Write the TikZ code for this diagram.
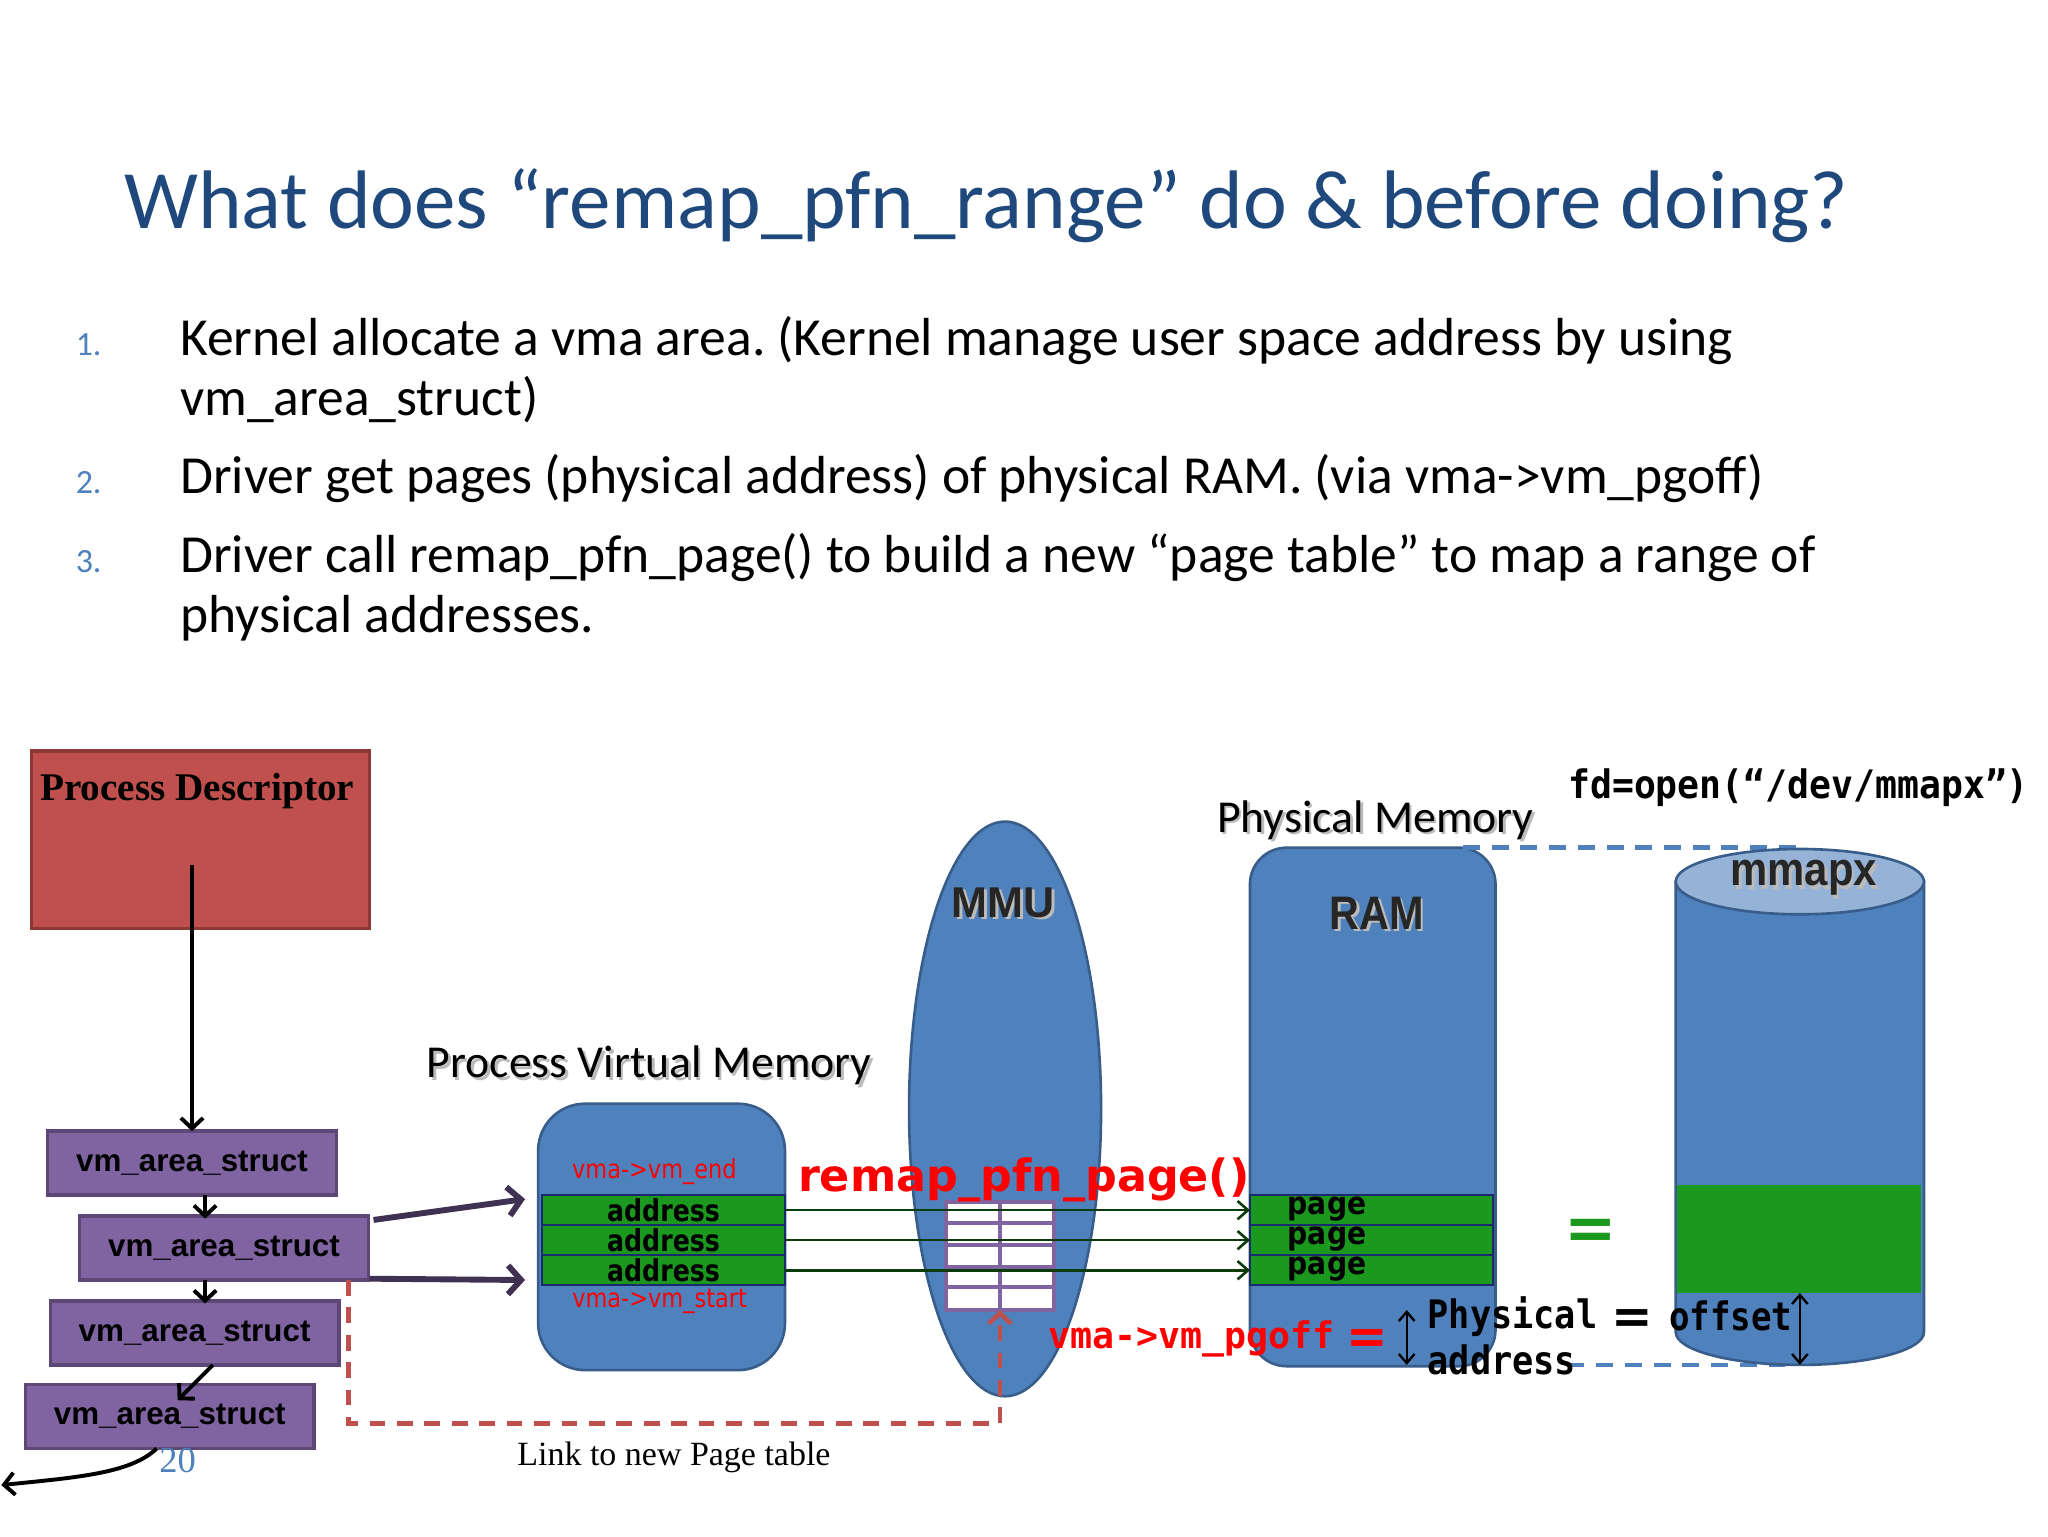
\documentclass[tikz,border=0pt]{standalone}
\usepackage{fontspec}
\setmainfont{Carlito}
\newfontfamily\timesf{Liberation Serif}
\newfontfamily\arialf{Liberation Sans}
\newfontfamily\dvs{DejaVu Sans}
\newfontfamily\dvm{DejaVu Sans Mono}
\usetikzlibrary{arrows.meta,shapes.geometric}
\definecolor{titleblue}{HTML}{1F497D}
\definecolor{numblue}{HTML}{4F81BD}
\definecolor{pdred}{HTML}{C0504D}
\definecolor{pdborder}{HTML}{8C3836}
\definecolor{vmpurple}{HTML}{8064A2}
\definecolor{vmborder}{HTML}{5C4776}
\definecolor{memblue}{HTML}{4F81BD}
\definecolor{memborder}{HTML}{385D8A}
\definecolor{pggreen}{HTML}{1B991F}
\definecolor{mmtopc}{HTML}{95B3D7}
\definecolor{arrdark}{HTML}{3F3151}
\definecolor{lngreen}{HTML}{0B3B0B}
\definecolor{rowborder}{HTML}{1A2A6C}
\definecolor{dashred}{HTML}{C0504D}
\definecolor{shadowgray}{HTML}{BBBBBB}
\definecolor{labeldark}{HTML}{262626}
\newcommand\fsz[1]{\fontsize{#1}{#1}\selectfont}
\newcommand\hsq[2]{\scalebox{#1}[1]{#2}}
\frenchspacing
\begin{document}
\begin{tikzpicture}[x=1pt,y=-1pt,
  every node/.style={inner sep=0pt, outer sep=0pt},
  pdbox/.style={draw=pdborder, fill=pdred, line width=2.5pt, minimum width=259pt, minimum height=136pt},
  vmbox/.style={draw=vmborder, fill=vmpurple, line width=2.5pt, minimum width=221pt, minimum height=49pt, font=\arialf\bfseries\fsz{24}},
  membox/.style={draw=memborder, fill=memblue, line width=2pt},
  rowbox/.style={draw=rowborder, fill=pggreen, line width=1.5pt, minimum height=23pt},
  blk/.style={draw=black, line width=3pt, -{Straight Barb[length=8pt,width=17pt]}},
  thickarr/.style={draw=arrdark, line width=4.5pt, -{Straight Barb[length=10pt,width=22pt]}},
  grnline/.style={draw=lngreen, line width=2pt, -{Straight Barb[length=8pt,width=14pt]}},
  reddash/.style={draw=dashred, line width=3.5pt, dash pattern=on 12pt off 9pt, -{Straight Barb[length=8pt,width=17pt]}},
  bluedash/.style={draw=memblue, line width=3.5pt, dash pattern=on 13pt off 9pt},
  dblarr/.style={draw=black, line width=1.8pt, {Straight Barb[length=7pt,width=12pt]}-{Straight Barb[length=7pt,width=12pt]}},
  shad/.style={text=shadowgray}
]
\useasboundingbox[fill=white] (0,0) rectangle (1568,1176);

% ---------- title and bullets ----------
\node[anchor=base west, text=titleblue] (title) at (95,175) {\fsz{63.6}What does “remap\_pfn\_range” do \& before doing?};
\node[anchor=base west, text=numblue] (n1) at (58,272) {\fsz{26}1.};
\node[anchor=base west, text=numblue] (n2) at (58,378) {\fsz{26}2.};
\node[anchor=base west, text=numblue] (n3) at (58,438) {\fsz{26}3.};
\node[anchor=base west] (b1a) at (138,272) {\fsz{41}Kernel allocate a vma area. (Kernel manage user space address by using};
\node[anchor=base west] (b1b) at (138,318) {\fsz{41}vm\_area\_struct)};
\node[anchor=base west] (b2a) at (138,378) {\fsz{41}Driver get pages (physical address) of physical RAM. (via vma->vm\_pgoff)};
\node[anchor=base west] (b3a) at (138,438) {\fsz{41}Driver call remap\_pfn\_page() to build a new “page table” to map a range of};
\node[anchor=base west] (b3b) at (138,484) {\fsz{41}physical addresses.};

% ---------- RAM and dashed blue guides (behind) ----------
\node[membox, rounded corners=28pt, minimum width=188pt, minimum height=397pt] (ram) at (1051,847.5) {};
\coordinate (mmbl) at (1283,675);
\coordinate (bdstart) at (1200,1045);
\coordinate (bdend) at (1372,1045);

% ---------- mmapx cylinder ----------
\draw[bluedash] ([xshift=-25pt]ram.north east) -- (1378,649);
\draw[bluedash] (bdstart) -- (bdend);
\filldraw[fill=memblue, draw=memborder, line width=2pt] (mmbl) -- (1283,1020) arc[start angle=180, end angle=360, x radius=95pt, y radius=25pt] -- (1473,675) -- cycle;
\node[ellipse, draw=memborder, fill=mmtopc, line width=2pt, minimum width=190pt, minimum height=50pt] (mmtop) at (1378,675) {};
\node[fill=pggreen, minimum width=187pt, minimum height=83pt] (mmg) at (1377.5,948.5) {};
\node[shad, font=\arialf\bfseries\fsz{36}] (mmsh) at (1383,675) {\hsq{0.89}{mmapx}};
\node[text=labeldark, font=\arialf\bfseries\fsz{36}] (mmlbl) at (1381,672) {\hsq{0.89}{mmapx}};

% ---------- process descriptor and vm_area_struct chain ----------
\node[pdbox] (pd) at (153.5,643) {};
\node[anchor=base, font=\timesf\bfseries\fsz{30}] (pdlbl) at (151,613) {Process Descriptor};
\coordinate (pdst) at (147,662);
\node[vmbox] (vm1) at (147,890.5) {vm\_area\_struct};
\node[vmbox] (vm2) at (171.5,955.5) {vm\_area\_struct};
\node[vmbox] (vm3) at (149,1020.5) {vm\_area\_struct};
\node[vmbox] (vm4) at (130,1084.5) {vm\_area\_struct};
\node[anchor=base, text=numblue, font=\timesf\fsz{28}] (pgnum) at (136,1127) {20};
\draw[blk] (pdst) -- (vm1.north);
\draw[blk] ([xshift=10pt]vm1.south) -- ([xshift=-14.5pt,yshift=-2pt]vm2.north);
\draw[blk] ([xshift=-14.5pt]vm2.south) -- ([xshift=8pt,yshift=-2pt]vm3.north);
\draw[blk] ([xshift=14pt]vm3.south) -- ([xshift=6pt,yshift=-12pt]vm4.north);
\coordinate (outl) at (1,1137);
\draw[blk] ([xshift=-10pt]vm4.south) .. controls (100,1128) and (60,1131) .. (outl);

% ---------- process virtual memory ----------
\node[membox, rounded corners=36pt, minimum width=189pt, minimum height=204pt] (pvm) at (506.5,947) {};
\node[anchor=base, shad] (pvmsh) at (499,827) {\fsz{35}Process Virtual Memory};
\node[anchor=base] (pvmlbl) at (497,825) {\fsz{35}Process Virtual Memory};
\node[text=red] (vmend) at (501,897) {\dvs\fsz{20}\hsq{0.86}{vma->vm\_end}};
\node[text=red] (vmstart) at (505,996) {\dvs\fsz{20}\hsq{0.86}{vma->vm\_start}};
\node[rowbox, minimum width=186pt] (ad1) at (508,926.5) {\dvs\bfseries\fsz{23}\hsq{0.84}{address}};
\node[rowbox, minimum width=186pt] (ad2) at (508,949.5) {\dvs\bfseries\fsz{23}\hsq{0.84}{address}};
\node[rowbox, minimum width=186pt] (ad3) at (508,972.5) {\dvs\bfseries\fsz{23}\hsq{0.84}{address}};
\coordinate (t1) at (402,918);
\coordinate (t2) at (402,980);
\draw[thickarr] ([xshift=4pt,yshift=-3pt]vm2.north east) -- (t1);
\draw[thickarr] ([xshift=1pt,yshift=1pt]vm2.south east) -- (t2);

% ---------- MMU ----------
\node[ellipse, draw=memborder, fill=memblue, line width=2pt, minimum width=147pt, minimum height=440pt] (mmu) at (769.5,849) {};
\node[shad, font=\arialf\bfseries\fsz{33}] (mmush) at (770,693) {MMU};
\node[text=labeldark, font=\arialf\bfseries\fsz{33}] (mmulbl) at (768,691) {MMU};
\node[draw=vmpurple, fill=white, line width=3pt, minimum width=83pt, minimum height=83pt] (ptab) at (765.5,961.5) {};
\draw[vmpurple, line width=3pt] (ptab.north) -- (ptab.south);
\draw[vmpurple, line width=3pt] (724,936) -- (807,936);
\draw[vmpurple, line width=3pt] (724,953) -- (807,953);
\draw[vmpurple, line width=3pt] (724,970) -- (807,970);
\draw[vmpurple, line width=3pt] (724,985) -- (807,985);

% ---------- RAM labels and pages ----------
\node[anchor=base, shad] (pmsh) at (1055,639) {\fsz{35}Physical Memory};
\node[anchor=base] (pmlbl) at (1053,637) {\fsz{35}Physical Memory};
\node[shad, font=\arialf\bfseries\fsz{36}] (ramsh) at (1056,701) {\hsq{0.88}{RAM}};
\node[text=labeldark, font=\arialf\bfseries\fsz{36}] (ramlbl) at (1054,699) {\hsq{0.88}{RAM}};
\node[rowbox, minimum width=186pt] (pg1) at (1050,926.5) {};
\node[rowbox, minimum width=186pt] (pg2) at (1050,949.5) {};
\node[rowbox, minimum width=186pt] (pg3) at (1050,972.5) {};
\node (pt1) at (1016,926) {\dvs\bfseries\fsz{24}\hsq{0.9}{page}};
\node (pt2) at (1016,949) {\dvs\bfseries\fsz{24}\hsq{0.9}{page}};
\node (pt3) at (1016,972) {\dvs\bfseries\fsz{24}\hsq{0.9}{page}};

% ---------- mapping lines ----------
\draw[grnline] (ad1.east) -- (pg1.west);
\draw[grnline] (ad2.east) -- (pg2.west);
\draw[grnline] (ad3.east) -- (pg3.west);
\node[anchor=base west, text=red] (remap) at (611,912) {\dvs\bfseries\fsz{34}remap\_pfn\_page()};

% ---------- link to page table ----------
\draw[reddash] ([xshift=-15pt]vm2.south east) -- ++(0,110) -| (ptab.south);
\node[font=\timesf\fsz{26}] (lnk) at (516,1116) {Link to new Page table};

% ---------- formula ----------
\node[text=pggreen, font=\dvs\bfseries\fsz{48}] (geq) at (1218,945) {=};
\node[text=red] (pgoff) at (912,1025) {\dvm\bfseries\fsz{28}vma->vm\_pgoff};
\node[text=red, font=\dvs\bfseries\fsz{38}] (req) at (1047,1027) {=};
\coordinate (da1) at (1077,1003);
\coordinate (da2) at (1077,1045);
\draw[dblarr] (da1) -- (da2);
\node[anchor=base west] (phys1) at (1093,1017) {\dvm\bfseries\fsz{30}\hsq{0.9}{Physical}};
\node[anchor=base west] (phys2) at (1093,1052) {\dvm\bfseries\fsz{30}\hsq{0.9}{address}};
\node[font=\dvs\bfseries\fsz{38}] (beq) at (1250,1012) {=};
\node[anchor=base west] (offs) at (1278,1019) {\dvm\bfseries\fsz{30}\hsq{0.87}{offset}};
\coordinate (db1) at (1378,990);
\coordinate (db2) at (1378,1045);
\draw[dblarr] (db1) -- (db2);
\node (fdopen) at (1377,603) {\dvm\bfseries\fsz{30}\hsq{0.93}{fd=open(“/dev/mmapx”)}};
\end{tikzpicture}
\end{document}
